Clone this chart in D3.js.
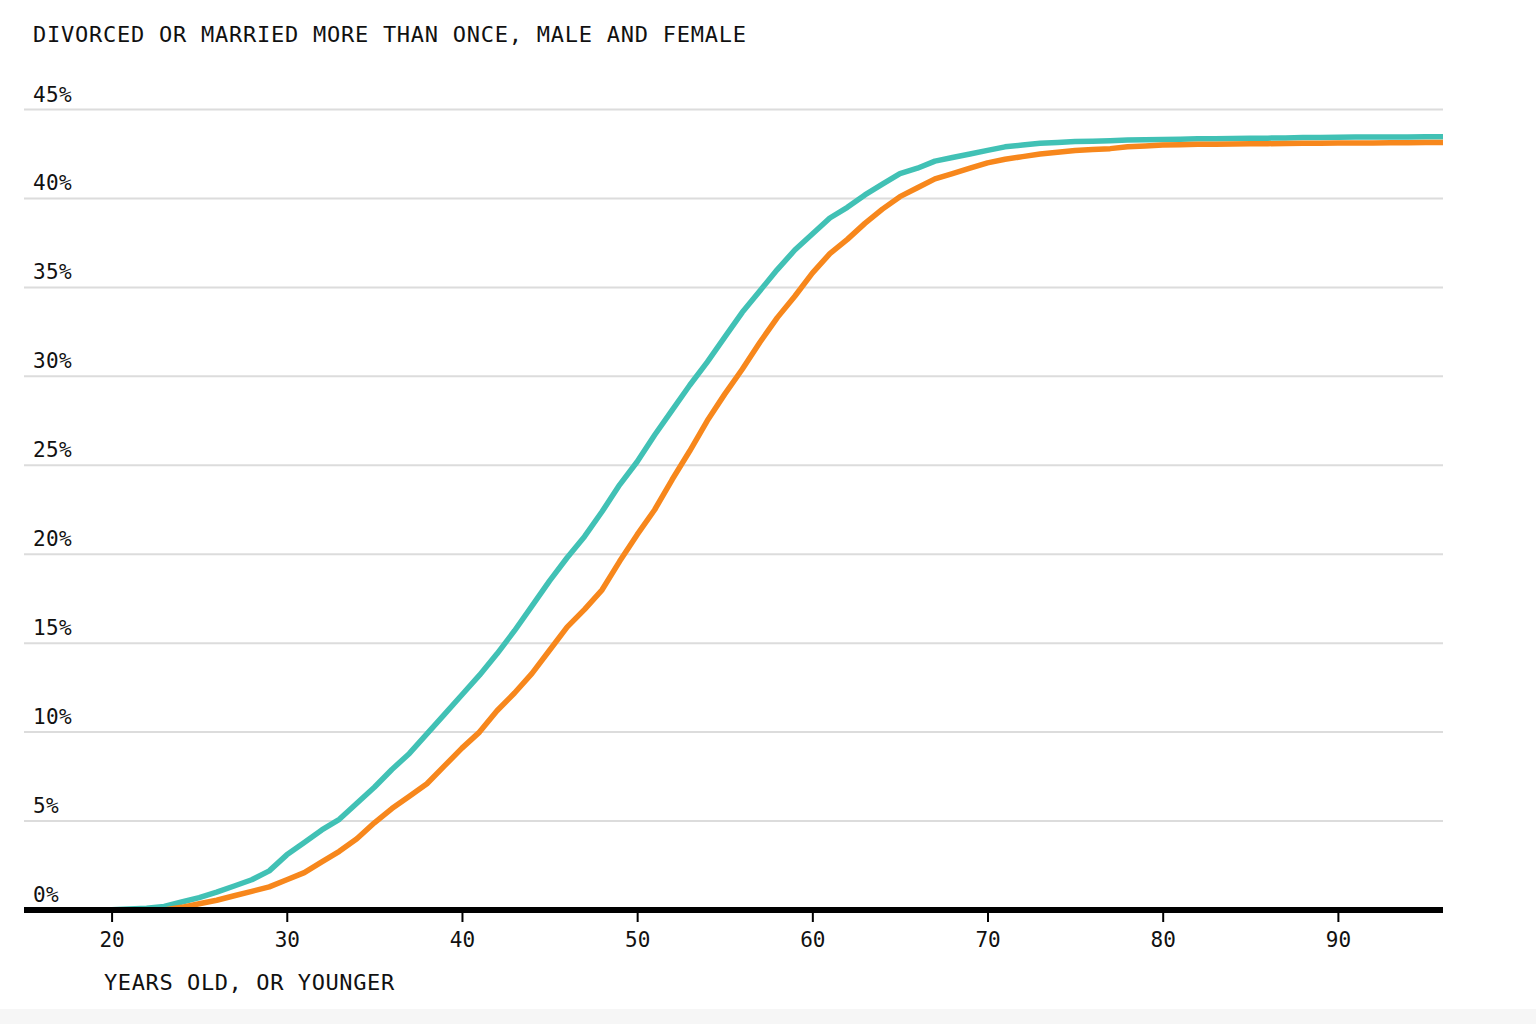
<!DOCTYPE html>
<html>
<head>
<meta charset="utf-8">
<script src="https://cdn.jsdelivr.net/npm/d3@7"></script>
<style>
  html, body { margin: 0; padding: 0; background: #fff; }
  svg { display: block; }
  text { font-family: "DejaVu Sans Mono", "Liberation Mono", monospace; fill: #111; }
</style>
</head>
<body>
<svg id="chart" width="1536" height="1024"></svg>
<script>
const title = "DIVORCED OR MARRIED MORE THAN ONCE, MALE AND FEMALE";
const xLabel = "YEARS OLD, OR YOUNGER";
const ages = d3.range(15, 97);
const xTicks = [20, 30, 40, 50, 60, 70, 80, 90];
const yTicks = [0, 5, 10, 15, 20, 25, 30, 35, 40, 45];

// teal series (upper curve)
const tealValues = [
  0, 0, 0, 0, 0, 0.02, 0.05, 0.1, 0.2, 0.45,          // 15-24
  0.7, 1.0, 1.35, 1.7, 2.2, 3.1, 3.8, 4.5, 5.1, 6.0,   // 25-34
  6.9, 7.9, 8.8, 9.9, 11.0, 12.1, 13.2, 14.4, 15.7, 17.1, // 35-44
  18.5, 19.8, 21.0, 22.4, 23.9, 25.2, 26.7, 28.1, 29.5, 30.8, // 45-54
  32.2, 33.6, 34.8, 36.0, 37.1, 38.0, 38.9, 39.5, 40.2, 40.8, // 55-64
  41.4, 41.7, 42.1, 42.3, 42.5, 42.7, 42.9, 43.0, 43.1, 43.15, // 65-74
  43.2, 43.22, 43.25, 43.28, 43.3, 43.32, 43.33, 43.35, 43.36, 43.37, // 75-84
  43.38, 43.39, 43.4, 43.42, 43.43, 43.44, 43.45, 43.45, 43.46, 43.46, // 85-94
  43.47, 43.47                                           // 95-96
];
// orange series (lower curve)
const orangeValues = [
  0, 0, 0, 0, 0, 0, 0, 0, 0, 0.15,                     // 15-24
  0.35, 0.55, 0.8, 1.05, 1.3, 1.7, 2.1, 2.7, 3.3, 4.0, // 25-34
  4.9, 5.7, 6.4, 7.1, 8.1, 9.1, 10.0, 11.2, 12.2, 13.3, // 35-44
  14.6, 15.9, 16.9, 18.0, 19.6, 21.1, 22.5, 24.2, 25.8, 27.5, // 45-54
  29.0, 30.4, 31.9, 33.3, 34.5, 35.8, 36.9, 37.7, 38.6, 39.4, // 55-64
  40.1, 40.6, 41.1, 41.4, 41.7, 42.0, 42.2, 42.35, 42.5, 42.6, // 65-74
  42.7, 42.75, 42.8, 42.9, 42.95, 43.0, 43.02, 43.04, 43.05, 43.06, // 75-84
  43.07, 43.08, 43.09, 43.1, 43.1, 43.11, 43.12, 43.12, 43.13, 43.13, // 85-94
  43.14, 43.15                                           // 95-96
];
const seriesColors = ["#41c1b5", "#f7871c"];

const svg = d3.select("#chart");

// light grey strip at the very bottom
svg.append("rect").attr("x", 0).attr("y", 1009).attr("width", 1536).attr("height", 15).attr("fill", "#f6f6f6");

const x = d3.scaleLinear().domain([15, 96]).range([24, 1443]);
const y = d3.scaleLinear().domain([0, 45]).range([910, 109.5]);

// title
svg.append("text").attr("x", 33).attr("y", 42)
  .style("font-size", "22px").style("letter-spacing", "0.75px")
  .text(title);

// grid lines + y labels
const grid = svg.append("g");
grid.selectAll("line").data(yTicks.filter(d => d > 0)).join("line")
  .attr("x1", x(15)).attr("x2", x(96))
  .attr("y1", d => y(d)).attr("y2", d => y(d))
  .attr("stroke", "#dcdcdc").attr("stroke-width", 2);
grid.selectAll("text").data(yTicks).join("text")
  .attr("x", 33).attr("y", d => y(d) - 8)
  .style("font-size", "21px").style("letter-spacing", "0.4px")
  .text(d => d + "%");

// lines
const line = d3.line().x((d, i) => x(ages[i])).y(d => y(d)).curve(d3.curveLinear);
[tealValues, orangeValues].forEach((vals, k) => {
  svg.append("path").datum(vals)
    .attr("d", line)
    .attr("fill", "none")
    .attr("stroke", seriesColors[k])
    .attr("stroke-width", 5.5)
    .attr("stroke-linejoin", "round")
    .attr("stroke-linecap", "butt");
});

// x axis
const xAxis = d3.axisBottom(x).tickValues(xTicks).tickSize(9).tickPadding(10).tickFormat(d3.format("d"));
const gx = svg.append("g").attr("transform", "translate(0,913)").call(xAxis);
gx.select(".domain").remove();
gx.selectAll(".tick line").attr("stroke", "#000").attr("stroke-width", 2);
gx.selectAll(".tick text").style("font-size", "21px").style("fill", "#111")
  .style("font-family", "\"DejaVu Sans Mono\", monospace").attr("dy", "0.71em");

// baseline
svg.append("line").attr("x1", x(15)).attr("x2", x(96))
  .attr("y1", y(0)).attr("y2", y(0))
  .attr("stroke", "#000").attr("stroke-width", 6);

// x label
svg.append("text").attr("x", 104).attr("y", 990)
  .style("font-size", "22px").style("letter-spacing", "0.6px")
  .text(xLabel);
</script>
</body>
</html>
